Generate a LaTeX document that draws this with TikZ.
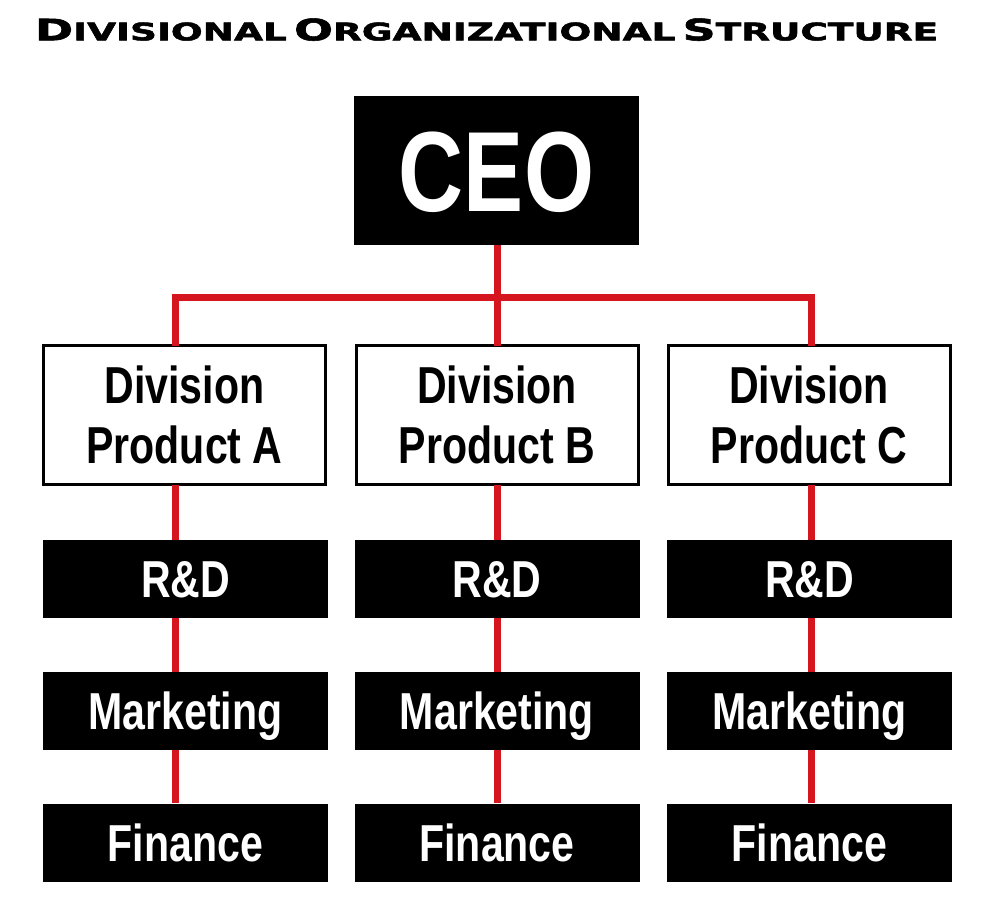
\documentclass[tikz,border=0pt]{standalone}
\usepackage{fontspec}
\usepackage{graphicx}
\setmainfont{Liberation Sans}
\newfontfamily\boxfont[FakeStretch=0.79]{Liberation Sans}
\newfontfamily\titlefont[FakeBold=1.8]{DejaVu Sans}
\newcommand\TSC[2]{{\fontsize{22}{22}\selectfont #1}{\fontsize{18}{18}\selectfont #2}}
\definecolor{linered}{RGB}{214,22,30}
\tikzset{
  blackbox/.style={fill=black, draw=none, text=white, minimum width=285pt, minimum height=78pt,
    inner sep=0pt, font=\boxfont\bfseries\fontsize{52}{60}\selectfont, text height=37pt, text depth=0pt},
  divbox/.style={fill=white, draw=black, line width=3pt, minimum width=282pt, minimum height=139pt,
    inner sep=0pt, align=center, font=\boxfont\bfseries\fontsize{52}{60}\selectfont, text height=97pt, text depth=0pt},
  ceobox/.style={fill=black, draw=none, text=white, minimum width=285pt, minimum height=149pt,
    inner sep=0pt, font=\boxfont\bfseries\fontsize{114}{114}\selectfont, text height=82pt, text depth=0pt},
  redline/.style={draw=linered, line width=7pt, line join=miter},
  titlenode/.style={inner sep=0pt, anchor=south west}
}
\begin{document}
\begin{tikzpicture}[x=1pt,y=-1pt]
\useasboundingbox[fill=white] (0,0) rectangle (984,896);
% title
\node[titlenode] (title) at (35,41) {\resizebox{903pt}{22pt}{\titlefont\bfseries
  \TSC{D}{IVISIONAL}\ \TSC{O}{RGANIZATIONAL}\ \TSC{S}{TRUCTURE}}};
% junction coordinates
\coordinate (jA) at (175,297);
\coordinate (jB) at (497,297);
\coordinate (jC) at (811,297);
% nodes
\node[ceobox] (ceo) at (496.5,170.5) {CEO};
\node[divbox] (divA) at (184.5,415) {Division\\Product A};
\node[divbox] (divB) at (497,415) {Division\\Product B};
\node[divbox] (divC) at (809,415) {Division\\Product C};
\node[blackbox] (rdA) at (185.5,579) {R\&D};
\node[blackbox] (rdB) at (497,579) {R\&D};
\node[blackbox] (rdC) at (809.5,579) {R\&D};
\node[blackbox] (mkA) at (185.5,711) {Marketing};
\node[blackbox] (mkB) at (497,711) {Marketing};
\node[blackbox] (mkC) at (809.5,711) {Marketing};
\node[blackbox] (fiA) at (185.5,842.5) {Finance};
\node[blackbox] (fiB) at (497,842.5) {Finance};
\node[blackbox] (fiC) at (809.5,842.5) {Finance};
% connectors
\draw[redline] (ceo.south -| jB) -- (jB);
\draw[redline] ([yshift=-1.5pt]divA.north -| jA) -- (jA) -- (jC) -- ([yshift=-1.5pt]divC.north -| jC);
\draw[redline] (jB) -- ([yshift=-1.5pt]divB.north -| jB);
\foreach \c in {A,B,C}{
  \draw[redline] ([yshift=1.5pt]div\c.south -| j\c) -- (rd\c.north -| j\c);
  \draw[redline] (rd\c.south -| j\c) -- (mk\c.north -| j\c);
  \draw[redline] (mk\c.south -| j\c) -- (fi\c.north -| j\c);
}
\end{tikzpicture}
\end{document}
